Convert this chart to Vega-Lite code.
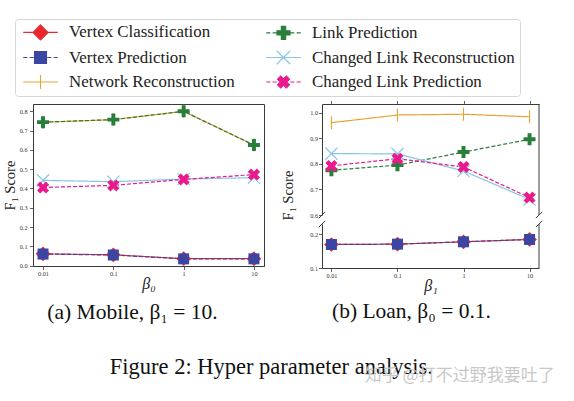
{
  "$schema": "https://vega.github.io/schema/vega-lite/v6.json",
  "padding": {"left": 1, "top": 18, "right": 2, "bottom": 2},
  "background": "white",
  "config": {
    "font": "Liberation Serif",
    "view": {"stroke": "#3a3a3a", "strokeWidth": 1},
    "axis": {
      "grid": false,
      "labelFont": "Liberation Serif",
      "labelFontSize": 6.2,
      "labelColor": "#333",
      "labelPadding": 1,
      "labelFlush": false,
      "labelOverlap": false,
      "labelBound": false,
      "tickColor": "#3a3a3a",
      "tickSize": 3.5,
      "tickWidth": 0.8,
      "domain": true,
      "domainColor": "#3a3a3a",
      "domainWidth": 1,
      "titleFont": "Liberation Serif",
      "titleFontWeight": "normal",
      "titleColor": "#222"
    },
    "legend": {
      "orient": "none",
      "legendX": -18,
      "legendY": -85,
      "columns": 2,
      "symbolSize": 225,
      "symbolStrokeWidth": 1.1,
      "symbolOpacity": 1,
      "symbolOffset": 12.5,
      "labelOffset": 20,
      "labelFont": "Liberation Serif",
      "labelFontSize": 16.9,
      "labelColor": "#222",
      "labelLimit": 300,
      "rowPadding": 5.5,
      "columnPadding": 27,
      "padding": 4.5,
      "strokeColor": "#d6d6d6",
      "cornerRadius": 3,
      "fillColor": "white"
    },
    "title": {"font": "Liberation Serif", "fontWeight": "normal", "color": "#111"}
  },
  "datasets": {
    "mobile": [
      {"beta": 0.01, "series": "Vertex Classification", "f1": 0.061},
      {"beta": 0.1, "series": "Vertex Classification", "f1": 0.056},
      {"beta": 1, "series": "Vertex Classification", "f1": 0.036},
      {"beta": 10, "series": "Vertex Classification", "f1": 0.036},
      {"beta": 0.01, "series": "Vertex Prediction", "f1": 0.060},
      {"beta": 0.1, "series": "Vertex Prediction", "f1": 0.055},
      {"beta": 1, "series": "Vertex Prediction", "f1": 0.035},
      {"beta": 10, "series": "Vertex Prediction", "f1": 0.035},
      {"beta": 0.01, "series": "Network Reconstruction", "f1": 0.743},
      {"beta": 0.1, "series": "Network Reconstruction", "f1": 0.757},
      {"beta": 1, "series": "Network Reconstruction", "f1": 0.800},
      {"beta": 10, "series": "Network Reconstruction", "f1": 0.625},
      {"beta": 0.01, "series": "Link Prediction", "f1": 0.744},
      {"beta": 0.1, "series": "Link Prediction", "f1": 0.757},
      {"beta": 1, "series": "Link Prediction", "f1": 0.800},
      {"beta": 10, "series": "Link Prediction", "f1": 0.625},
      {"beta": 0.01, "series": "Changed Link Reconstruction", "f1": 0.442},
      {"beta": 0.1, "series": "Changed Link Reconstruction", "f1": 0.435},
      {"beta": 1, "series": "Changed Link Reconstruction", "f1": 0.449},
      {"beta": 10, "series": "Changed Link Reconstruction", "f1": 0.456},
      {"beta": 0.01, "series": "Changed Link Prediction", "f1": 0.405},
      {"beta": 0.1, "series": "Changed Link Prediction", "f1": 0.416},
      {"beta": 1, "series": "Changed Link Prediction", "f1": 0.447},
      {"beta": 10, "series": "Changed Link Prediction", "f1": 0.472}
    ],
    "loan": [
      {"beta": 0.01, "series": "Vertex Classification", "f1": 0.170},
      {"beta": 0.1, "series": "Vertex Classification", "f1": 0.171},
      {"beta": 1, "series": "Vertex Classification", "f1": 0.178},
      {"beta": 10, "series": "Vertex Classification", "f1": 0.185},
      {"beta": 0.01, "series": "Vertex Prediction", "f1": 0.170},
      {"beta": 0.1, "series": "Vertex Prediction", "f1": 0.171},
      {"beta": 1, "series": "Vertex Prediction", "f1": 0.178},
      {"beta": 10, "series": "Vertex Prediction", "f1": 0.185},
      {"beta": 0.01, "series": "Network Reconstruction", "f1": 0.961},
      {"beta": 0.1, "series": "Network Reconstruction", "f1": 0.991},
      {"beta": 1, "series": "Network Reconstruction", "f1": 0.994},
      {"beta": 10, "series": "Network Reconstruction", "f1": 0.984},
      {"beta": 0.01, "series": "Link Prediction", "f1": 0.775},
      {"beta": 0.1, "series": "Link Prediction", "f1": 0.795},
      {"beta": 1, "series": "Link Prediction", "f1": 0.846},
      {"beta": 10, "series": "Link Prediction", "f1": 0.896},
      {"beta": 0.01, "series": "Changed Link Reconstruction", "f1": 0.840},
      {"beta": 0.1, "series": "Changed Link Reconstruction", "f1": 0.839},
      {"beta": 1, "series": "Changed Link Reconstruction", "f1": 0.772},
      {"beta": 10, "series": "Changed Link Reconstruction", "f1": 0.661},
      {"beta": 0.01, "series": "Changed Link Prediction", "f1": 0.792},
      {"beta": 0.1, "series": "Changed Link Prediction", "f1": 0.820},
      {"beta": 1, "series": "Changed Link Prediction", "f1": 0.788},
      {"beta": 10, "series": "Changed Link Prediction", "f1": 0.668}
    ]
  },
  "title": {
    "text": "Figure 2: Hyper parameter analysis.",
    "subtitle": "\u200b\u3000\u3000\u3000\u3000\u3000\u3000\u3000\u3000\u3000\u3000\u3000\u3000\u3000\u3000\u3000知乎 @打不过野我要吐了",
    "orient": "bottom",
    "anchor": "start",
    "dx": 108,
    "offset": 32,
    "fontSize": 22.5,
    "subtitleFont": "Noto Sans CJK SC",
    "subtitleFontSize": 17,
    "subtitleColor": "#c8c8c8",
    "subtitlePadding": -10
  },
  "spacing": 58,
  "bounds": "flush",
  "hconcat": [
    {
      "width": 231,
      "height": 162,
      "data": {"name": "mobile"},
      "title": {"text": "(a) Mobile, β₁ = 10.", "orient": "bottom", "anchor": "middle", "dx": -16, "offset": 10, "fontSize": 21.5},
      "encoding": {
        "x": {
          "field": "beta",
          "type": "quantitative",
          "scale": {"type": "log", "domain": [0.0072, 13.9], "nice": false},
          "axis": {"values": [0.01, 0.1, 1, 10], "format": "~g", "title": "β₀", "titleFontSize": 16, "titleFontStyle": "italic", "titlePadding": -1}
        },
        "y": {
          "field": "f1",
          "type": "quantitative",
          "scale": {"domain": [-0.002, 0.838], "nice": false, "zero": false},
          "axis": {"values": [0, 0.1, 0.2, 0.3, 0.4, 0.5, 0.6, 0.7, 0.8], "format": ".1f", "title": "F₁ Score", "titleFontSize": 14.5, "titlePadding": 2, "labelPadding": 2.5}
        }
      },
      "layer": [
        {
          "mark": {"type": "line", "strokeWidth": 1.2},
          "encoding": {
            "color": {"field": "series", "type": "nominal", "legend": null,
              "scale": {"domain": ["Changed Link Prediction", "Changed Link Reconstruction", "Link Prediction", "Network Reconstruction", "Vertex Prediction", "Vertex Classification"],
                        "range": ["#ea1a8c", "#86c6e4", "#2a7e3b", "#e5a530", "#3b46a4", "#e8262b"]}},
            "strokeDash": {"field": "series", "type": "nominal", "legend": null,
              "scale": {"domain": ["Changed Link Prediction", "Changed Link Reconstruction", "Link Prediction", "Network Reconstruction", "Vertex Prediction", "Vertex Classification"],
                        "range": [[4, 2], [1, 0], [4, 2], [1, 0], [4, 2], [1, 0]]}}
          }
        },
        {"transform": [{"filter": {"field": "series", "equal": "Vertex Classification"}}],
         "mark": {"type": "point", "shape": "diamond", "filled": true, "color": "#e8262b", "size": 215, "opacity": 1}},
        {"transform": [{"filter": {"field": "series", "equal": "Vertex Prediction"}}],
         "mark": {"type": "point", "shape": "square", "filled": true, "color": "#3b46a4", "size": 121, "opacity": 1}},
        {"transform": [{"filter": {"field": "series", "equal": "Network Reconstruction"}}],
         "mark": {"type": "point", "shape": "M0,-1V1", "filled": false, "color": "#e5a530", "size": 169, "strokeWidth": 1.1, "opacity": 1}},
        {"transform": [{"filter": {"field": "series", "equal": "Link Prediction"}}],
         "mark": {"type": "point", "shape": "M-0.33,-1H0.33V-0.33H1V0.33H0.33V1H-0.33V0.33H-1V-0.33H-0.33Z", "filled": true, "color": "#2a7e3b", "size": 144, "opacity": 1}},
        {"transform": [{"filter": {"field": "series", "equal": "Changed Link Reconstruction"}}],
         "mark": {"type": "point", "shape": "M-1,-1L1,1M-1,1L1,-1", "filled": false, "color": "#86c6e4", "size": 150, "strokeWidth": 1.1, "opacity": 1}},
        {"transform": [{"filter": {"field": "series", "equal": "Changed Link Prediction"}}],
         "mark": {"type": "point", "shape": "M0.48,-1L1,-0.48L0.52,0L1,0.48L0.48,1L0,0.52L-0.48,1L-1,0.48L-0.52,0L-1,-0.48L-0.48,-1L0,-0.52Z", "filled": true, "color": "#ea1a8c", "size": 144, "opacity": 1}},
        {
          "mark": {"type": "point", "filled": true, "opacity": 0, "size": 225},
          "encoding": {
            "fill": {"field": "series", "type": "nominal",
              "legend": {"title": null, "orient": "none", "legendX": -18, "legendY": -85, "columns": 2},
              "scale": {"domain": ["Vertex Classification", "Vertex Prediction", "Network Reconstruction", "Link Prediction", "Changed Link Reconstruction", "Changed Link Prediction"],
                        "range": ["#e8262b", "#3b46a4", "#e5a530", "#2a7e3b", "#86c6e4", "#ea1a8c"]}},
            "stroke": {"field": "series", "type": "nominal",
              "legend": {"title": null, "orient": "none", "legendX": -18, "legendY": -85, "columns": 2},
              "scale": {"domain": ["Vertex Classification", "Vertex Prediction", "Network Reconstruction", "Link Prediction", "Changed Link Reconstruction", "Changed Link Prediction"],
                        "range": ["#e8262b", "#3b46a4", "#e5a530", "#2a7e3b", "#86c6e4", "#ea1a8c"]}},
            "shape": {"field": "series", "type": "nominal",
              "legend": {"title": null, "orient": "none", "legendX": -18, "legendY": -85, "columns": 2},
              "scale": {"domain": ["Vertex Classification", "Vertex Prediction", "Network Reconstruction", "Link Prediction", "Changed Link Reconstruction", "Changed Link Prediction"],
                        "range": [
                          "M-2.3,0H2.3M0,-1L1,0L0,1L-1,0Z",
                          "M-2.3,0H-1.75M-1.45,0H-0.9M0.9,0H1.45M1.75,0H2.3M-0.8,-0.8H0.8V0.8H-0.8Z",
                          "M-2.3,0H2.3M0,-0.93V0.93",
                          "M-2.3,0H-1.75M-1.45,0H-0.9M0.9,0H1.45M1.75,0H2.3M-0.29,-0.87H0.29V-0.29H0.87V0.29H0.29V0.87H-0.29V0.29H-0.87V-0.29H-0.29Z",
                          "M-2.3,0H2.3M-0.9,-0.9L0.9,0.9M-0.9,0.9L0.9,-0.9",
                          "M-2.3,0H-1.75M-1.45,0H-0.9M0.9,0H1.45M1.75,0H2.3M0.38,-0.8L0.8,-0.38L0.42,0L0.8,0.38L0.38,0.8L0,0.42L-0.38,0.8L-0.8,0.38L-0.42,0L-0.8,-0.38L-0.38,-0.8L0,-0.42Z"
                        ]}}
          }
        }
      ]
    },
    {
      "title": {"text": "(b) Loan, β₀ = 0.1.", "orient": "bottom", "anchor": "middle", "dx": -1, "offset": 7, "fontSize": 21.5},
      "spacing": 9,
      "bounds": "flush",
      "vconcat": [
        {
          "width": 217,
          "height": 111,
          "view": {"stroke": null},
          "layer": [
            {
              "data": {"name": "loan"},
              "transform": [{"filter": {"field": "series", "oneOf": ["Network Reconstruction", "Link Prediction", "Changed Link Reconstruction", "Changed Link Prediction"]}}],
              "encoding": {
                "x": {
                  "field": "beta",
                  "type": "quantitative",
                  "scale": {"type": "log", "domain": [0.0072, 13.9], "nice": false},
                  "axis": {"orient": "top", "values": [0.01, 0.1, 1, 10], "labels": false, "title": null}
                },
                "y": {
                  "field": "f1",
                  "type": "quantitative",
                  "scale": {"domain": [0.6, 1.034], "nice": false, "zero": false},
                  "axis": {"values": [0.6, 0.7, 0.8, 0.9, 1.0], "format": ".1f", "labelOverlap": false, "title": "F₁ Score", "titleFontSize": 14.5, "titlePadding": 14, "titleY": 91, "labelPadding": 1}
                }
              },
              "layer": [
                {
                  "mark": {"type": "line", "strokeWidth": 1.2},
                  "encoding": {
                    "color": {"field": "series", "type": "nominal", "legend": null,
                      "scale": {"domain": ["Changed Link Prediction", "Changed Link Reconstruction", "Link Prediction", "Network Reconstruction", "Vertex Prediction", "Vertex Classification"],
                                "range": ["#ea1a8c", "#86c6e4", "#2a7e3b", "#e5a530", "#3b46a4", "#e8262b"]}},
                    "strokeDash": {"field": "series", "type": "nominal", "legend": null,
                      "scale": {"domain": ["Changed Link Prediction", "Changed Link Reconstruction", "Link Prediction", "Network Reconstruction", "Vertex Prediction", "Vertex Classification"],
                                "range": [[4, 2], [1, 0], [4, 2], [1, 0], [4, 2], [1, 0]]}}
                  }
                },
                {"transform": [{"filter": {"field": "series", "equal": "Network Reconstruction"}}],
                 "mark": {"type": "point", "shape": "M0,-1V1", "filled": false, "color": "#e5a530", "size": 169, "strokeWidth": 1.1, "opacity": 1}},
                {"transform": [{"filter": {"field": "series", "equal": "Link Prediction"}}],
                 "mark": {"type": "point", "shape": "M-0.33,-1H0.33V-0.33H1V0.33H0.33V1H-0.33V0.33H-1V-0.33H-0.33Z", "filled": true, "color": "#2a7e3b", "size": 144, "opacity": 1}},
                {"transform": [{"filter": {"field": "series", "equal": "Changed Link Reconstruction"}}],
                 "mark": {"type": "point", "shape": "M-1,-1L1,1M-1,1L1,-1", "filled": false, "color": "#86c6e4", "size": 150, "strokeWidth": 1.1, "opacity": 1}},
                {"transform": [{"filter": {"field": "series", "equal": "Changed Link Prediction"}}],
                 "mark": {"type": "point", "shape": "M0.48,-1L1,-0.48L0.52,0L1,0.48L0.48,1L0,0.52L-0.48,1L-1,0.48L-0.52,0L-1,-0.48L-0.48,-1L0,-0.52Z", "filled": true, "color": "#ea1a8c", "size": 144, "opacity": 1}}
              ]
            },
            {
              "data": {"values": [{}]},
              "mark": {"type": "rule", "color": "#3a3a3a", "strokeWidth": 1},
              "encoding": {
                "x": {"datum": 13.9, "type": "quantitative", "axis": {"orient": "top", "values": [0.01, 0.1, 1, 10], "labels": false, "title": null}}
              }
            },
            {
              "data": {"values": [{}]},
              "mark": {"type": "point", "shape": "M-1,1L1,-1", "size": 40, "filled": false, "strokeWidth": 1, "color": "#3a3a3a", "clip": false, "opacity": 1},
              "encoding": {
                "x": {"datum": 0.0072, "type": "quantitative", "axis": {"orient": "top", "values": [0.01, 0.1, 1, 10], "labels": false, "title": null}},
                "y": {"datum": 0.6, "type": "quantitative", "axis": {"values": [0.6, 0.7, 0.8, 0.9, 1.0], "format": ".1f", "labelOverlap": false, "title": "F₁ Score", "titleFontSize": 14.5, "titlePadding": 14, "titleY": 91, "labelPadding": 1}}
              }
            },
            {
              "data": {"values": [{}]},
              "mark": {"type": "point", "shape": "M-1,1L1,-1", "size": 40, "filled": false, "strokeWidth": 1, "color": "#3a3a3a", "clip": false, "opacity": 1},
              "encoding": {
                "x": {"datum": 13.9, "type": "quantitative", "axis": {"orient": "top", "values": [0.01, 0.1, 1, 10], "labels": false, "title": null}},
                "y": {"datum": 0.6, "type": "quantitative", "axis": {"values": [0.6, 0.7, 0.8, 0.9, 1.0], "format": ".1f", "labelOverlap": false, "title": "F₁ Score", "titleFontSize": 14.5, "titlePadding": 14, "titleY": 91, "labelPadding": 1}}
              }
            }
          ]
        },
        {
          "width": 217,
          "height": 44,
          "view": {"stroke": null},
          "layer": [
            {
              "data": {"name": "loan"},
              "transform": [{"filter": {"field": "series", "oneOf": ["Vertex Classification", "Vertex Prediction"]}}],
              "encoding": {
                "x": {
                  "field": "beta",
                  "type": "quantitative",
                  "scale": {"type": "log", "domain": [0.0072, 13.9], "nice": false},
                  "axis": {"values": [0.01, 0.1, 1, 10], "format": "~g", "title": "β₁", "titleFontSize": 16, "titleFontStyle": "italic", "titlePadding": -1}
                },
                "y": {
                  "field": "f1",
                  "type": "quantitative",
                  "scale": {"domain": [0.1, 0.231], "nice": false, "zero": false},
                  "axis": {"values": [0.1, 0.2], "format": ".1f", "labelOverlap": false, "title": null, "labelPadding": 1}
                }
              },
              "layer": [
                {
                  "mark": {"type": "line", "strokeWidth": 1.2},
                  "encoding": {
                    "color": {"field": "series", "type": "nominal", "legend": null,
                      "scale": {"domain": ["Changed Link Prediction", "Changed Link Reconstruction", "Link Prediction", "Network Reconstruction", "Vertex Prediction", "Vertex Classification"],
                                "range": ["#ea1a8c", "#86c6e4", "#2a7e3b", "#e5a530", "#3b46a4", "#e8262b"]}},
                    "strokeDash": {"field": "series", "type": "nominal", "legend": null,
                      "scale": {"domain": ["Changed Link Prediction", "Changed Link Reconstruction", "Link Prediction", "Network Reconstruction", "Vertex Prediction", "Vertex Classification"],
                                "range": [[4, 2], [1, 0], [4, 2], [1, 0], [4, 2], [1, 0]]}}
                  }
                },
                {"transform": [{"filter": {"field": "series", "equal": "Vertex Classification"}}],
                 "mark": {"type": "point", "shape": "diamond", "filled": true, "color": "#e8262b", "size": 215, "opacity": 1}},
                {"transform": [{"filter": {"field": "series", "equal": "Vertex Prediction"}}],
                 "mark": {"type": "point", "shape": "square", "filled": true, "color": "#3b46a4", "size": 121, "opacity": 1}}
              ]
            },
            {
              "data": {"values": [{}]},
              "mark": {"type": "rule", "color": "#3a3a3a", "strokeWidth": 1},
              "encoding": {
                "x": {"datum": 13.9, "type": "quantitative", "axis": {"values": [0.01, 0.1, 1, 10], "format": "~g", "title": "β₁", "titleFontSize": 16, "titleFontStyle": "italic", "titlePadding": -1}}
              }
            },
            {
              "data": {"values": [{}]},
              "mark": {"type": "point", "shape": "M-1,1L1,-1", "size": 40, "filled": false, "strokeWidth": 1, "color": "#3a3a3a", "clip": false, "opacity": 1},
              "encoding": {
                "x": {"datum": 0.0072, "type": "quantitative", "axis": {"values": [0.01, 0.1, 1, 10], "format": "~g", "title": "β₁", "titleFontSize": 16, "titleFontStyle": "italic", "titlePadding": -1}},
                "y": {"datum": 0.231, "type": "quantitative", "axis": {"values": [0.1, 0.2], "format": ".1f", "labelOverlap": false, "title": null, "labelPadding": 1}}
              }
            },
            {
              "data": {"values": [{}]},
              "mark": {"type": "point", "shape": "M-1,1L1,-1", "size": 40, "filled": false, "strokeWidth": 1, "color": "#3a3a3a", "clip": false, "opacity": 1},
              "encoding": {
                "x": {"datum": 13.9, "type": "quantitative", "axis": {"values": [0.01, 0.1, 1, 10], "format": "~g", "title": "β₁", "titleFontSize": 16, "titleFontStyle": "italic", "titlePadding": -1}},
                "y": {"datum": 0.231, "type": "quantitative", "axis": {"values": [0.1, 0.2], "format": ".1f", "labelOverlap": false, "title": null, "labelPadding": 1}}
              }
            }
          ]
        }
      ]
    }
  ]
}
